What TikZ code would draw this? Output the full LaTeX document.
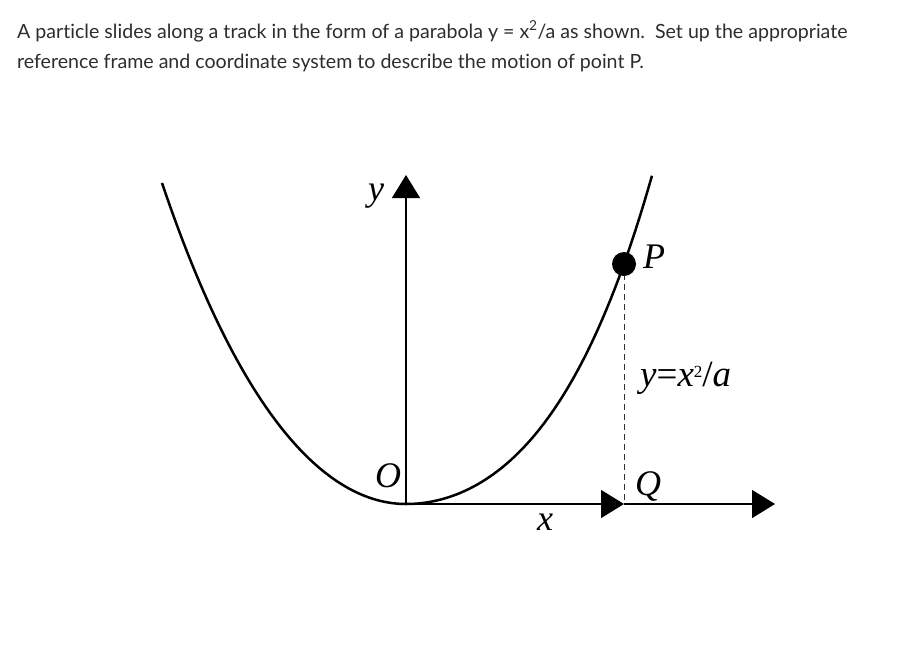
\documentclass[tikz,border=0pt]{standalone}
\usepackage{fontspec}
\setmainfont{Liberation Serif}
\newfontfamily\headfont[Ligatures=NoCommon]{Lato}
\usetikzlibrary{arrows.meta}
\definecolor{headgray}{RGB}{45,45,45}
\tikzset{
  axis/.style={line width=1.5pt, -{Triangle[length=23pt,width=28pt]}},
  track/.style={line width=2.5pt},
  headline/.style={anchor=base west, inner sep=0pt, text=headgray, font=\headfont\fontsize{19.6}{30}\selectfont},
  lbl/.style={anchor=base west, inner sep=0pt, font=\fontsize{36}{36}\selectfont\itshape},
}
\begin{document}
\begin{tikzpicture}[x=1pt,y=-1pt]
			%%%%% START %%%%%
			\useasboundingbox (0,0) rectangle (898,657);
			
			\node[headline] (line1) at (17,38.5)
			{A particle slides along a track in the form of a parabola y = x\textsuperscript{2}/a as shown.\ \ Set up the appropriate};
			\node[headline] (line2) at (17,68.5)
			{reference frame and coordinate system to describe the motion of point P.};
			
			\coordinate (O) at (406,504);
			\coordinate (Ytip) at (406,175);
			\coordinate (Q) at (624,504);
			\coordinate (Xtip) at (775,504);
			\coordinate (P) at (624,264);
			
			% track, u = x/100
			\draw[track] plot[domain=-2.44:0, samples=60] ({406+100*\x},{504-(47.2*\x*\x+1.129*\x*\x*\x*\x)})
			             plot[domain=0:2.46, samples=60] ({406+100*\x},{504-(36.88*\x*\x+2.873*\x*\x*\x*\x)});
			
			\draw[axis] (O) -- (Ytip);
			\draw[axis] (O) -- (Q);
			\draw[axis] (Q) -- (Xtip);
			\draw[line width=1pt, dash pattern=on 6pt off 4pt, black!80] (P) -- (Q);
			\fill (P) circle (12);
			
			\node[lbl] (ylab) at (368,200) {y};
			\node[lbl] (plab) at (643,268) {P};
			\node[lbl] (olab) at (375,487) {O};
			\node[lbl] (qlab) at (635,495) {Q};
			\node[lbl] (xlab) at (537,530) {x};
			\node[lbl, font=\fontsize{37}{37}\selectfont] (curvelab) at (640,386) {\textit{y}=\textit{x}\raisebox{9pt}{\fontsize{17}{17}\selectfont 2}/\textit{a}};
			
			%%%%% END %%%%%
\end{tikzpicture}
\end{document}
